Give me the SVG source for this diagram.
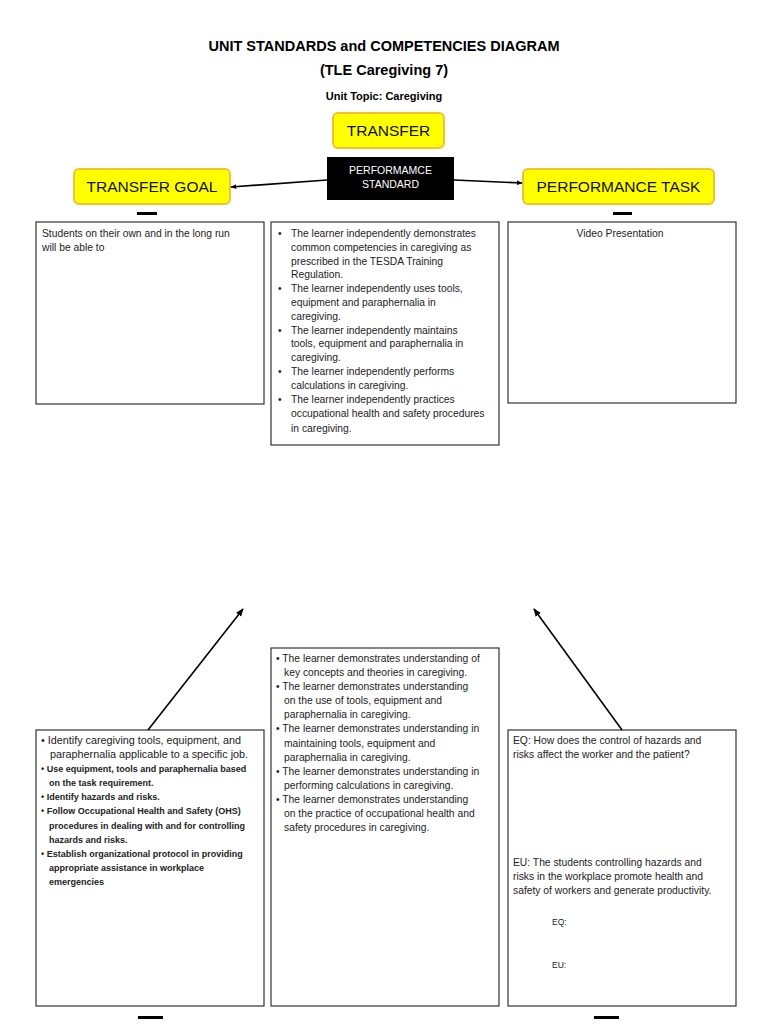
<svg xmlns="http://www.w3.org/2000/svg" width="768" height="1024" viewBox="0 0 768 1024">
<defs>
<marker id="ah" viewBox="0 0 10 10" refX="9" refY="5" markerWidth="6" markerHeight="6" orient="auto" markerUnits="userSpaceOnUse">
<path d="M0,1 L10,5 L0,9 z" fill="#000"/>
</marker>
<marker id="ah2" viewBox="0 0 10 10" refX="9" refY="5" markerWidth="8" markerHeight="8" orient="auto" markerUnits="userSpaceOnUse">
<path d="M0,1 L10,5 L0,9 z" fill="#000"/>
</marker>
</defs>
<style>
.title{font-family:"Liberation Sans",Arial,sans-serif;font-weight:bold;fill:#000;text-anchor:middle}
.yb{fill:#FFFF00;stroke:#F2C12E;stroke-width:2}
.yt{font-family:"Liberation Sans",Arial,sans-serif;font-size:15.5px;fill:#111;text-anchor:middle}
.box{fill:#fff;stroke:#333;stroke-width:1.2}
.t{font-family:"Liberation Sans",Arial,sans-serif;font-size:10.3px;fill:#222}
.s{font-family:"Liberation Sans",Arial,sans-serif;font-size:9px;fill:#222;font-weight:bold}
.dash{fill:#000}
.conn{stroke:#000;stroke-width:1.6;fill:none}
</style>
<rect width="768" height="1024" fill="#fff"/>
<text class="title" x="384" y="51" font-size="14.5">UNIT STANDARDS and COMPETENCIES DIAGRAM</text>
<text class="title" x="384" y="75" font-size="14.5">(TLE Caregiving 7)</text>
<text class="title" x="384" y="100" font-size="11">Unit Topic: Caregiving</text>

<g id="transfer">
<rect class="yb" x="333" y="113" width="111" height="35" rx="5"/>
<text class="yt" x="388.5" y="136">TRANSFER</text>
</g>
<g id="performance-standard">
<rect x="327" y="157" width="127" height="43" fill="#000"/>
<text x="390.5" y="174" font-family="'Liberation Sans',Arial,sans-serif" font-size="10.5" fill="#fff" text-anchor="middle">PERFORMAMCE</text>
<text x="390.5" y="188" font-family="'Liberation Sans',Arial,sans-serif" font-size="10.5" fill="#fff" text-anchor="middle">STANDARD</text>
</g>
<g id="transfer-goal">
<rect class="yb" x="74" y="169" width="156" height="35" rx="5"/>
<text class="yt" x="152" y="192">TRANSFER GOAL</text>
<rect class="dash" x="137" y="212" width="20" height="3"/>
</g>
<g id="performance-task">
<rect class="yb" x="523" y="169" width="191" height="35" rx="5"/>
<text class="yt" x="618.5" y="192">PERFORMANCE TASK</text>
<rect class="dash" x="613" y="212" width="19" height="3"/>
</g>

<g id="transfer-goal-box">
<rect class="box" x="36" y="222" width="228" height="182"/>
<text class="t" x="42" y="237">Students on their own and in the long run</text>
<text class="t" x="42" y="251">will be able to</text>
</g>
<g id="performance-standard-box">
<rect class="box" x="271" y="222" width="228" height="223"/>
<g class="t">
<text x="278" y="237">•</text>
<text x="291" y="237">The learner independently demonstrates</text>
<text x="291" y="251">common competencies in caregiving as</text>
<text x="291" y="265">prescribed in the TESDA Training</text>
<text x="291" y="278">Regulation.</text>
<text x="278" y="292">•</text>
<text x="291" y="292">The learner independently uses tools,</text>
<text x="291" y="306">equipment and paraphernalia in</text>
<text x="291" y="320">caregiving.</text>
<text x="278" y="334">•</text>
<text x="291" y="334">The learner independently maintains</text>
<text x="291" y="347">tools, equipment and paraphernalia in</text>
<text x="291" y="361">caregiving.</text>
<text x="278" y="375">•</text>
<text x="291" y="375">The learner independently performs</text>
<text x="291" y="389">calculations in caregiving.</text>
<text x="278" y="403">•</text>
<text x="291" y="403">The learner independently practices</text>
<text x="291" y="417">occupational health and safety procedures</text>
<text x="291" y="432">in caregiving.</text>
</g>
</g>
<g id="performance-task-box">
<rect class="box" x="508" y="222" width="228" height="181"/>
<text class="t" x="620" y="237" text-anchor="middle">Video Presentation</text>
</g>

<g id="competencies-box">
<rect class="box" x="36" y="730" width="228" height="276"/>
<text x="41" y="744" font-family="'Liberation Sans',Arial,sans-serif" font-size="10.8" fill="#222">•  Identify caregiving tools, equipment, and</text>
<text x="50" y="758" font-family="'Liberation Sans',Arial,sans-serif" font-size="10.8" fill="#222">paraphernalia applicable to a specific job.</text>
<g class="s">
<text x="41" y="772">• Use equipment, tools and paraphernalia based</text>
<text x="49" y="786">on the task requirement.</text>
<text x="41" y="800">• Identify hazards and risks.</text>
<text x="41" y="814">• Follow Occupational Health and Safety (OHS)</text>
<text x="49" y="829">procedures in dealing with and for controlling</text>
<text x="49" y="843">hazards and risks.</text>
<text x="41" y="857">• Establish organizational protocol in providing</text>
<text x="49" y="871">appropriate assistance in workplace</text>
<text x="49" y="885">emergencies</text>
</g>
<rect class="dash" x="138" y="1016" width="25" height="3"/>
</g>
<g id="content-standard-box">
<rect class="box" x="271" y="648" width="228" height="358"/>
<g class="t">
<text x="276" y="662">• The learner demonstrates understanding of</text>
<text x="284" y="676">key concepts and theories in caregiving.</text>
<text x="276" y="690">• The learner demonstrates understanding</text>
<text x="284" y="704">on the use of tools, equipment and</text>
<text x="284" y="718">paraphernalia in caregiving.</text>
<text x="276" y="732">• The learner demonstrates understanding in</text>
<text x="284" y="747">maintaining tools, equipment and</text>
<text x="284" y="761">paraphernalia in caregiving.</text>
<text x="276" y="775">• The learner demonstrates understanding in</text>
<text x="284" y="789">performing calculations in caregiving.</text>
<text x="276" y="803">• The learner demonstrates understanding</text>
<text x="284" y="817">on the practice of occupational health and</text>
<text x="284" y="831">safety procedures in caregiving.</text>
</g>
</g>
<g id="eq-eu-box">
<rect class="box" x="508" y="730" width="228" height="276"/>
<g class="t">
<text x="513" y="744">EQ: How does the control of hazards and</text>
<text x="513" y="758">risks affect the worker and the patient?</text>
<text x="513" y="866">EU: The students controlling hazards and</text>
<text x="513" y="880">risks in the workplace promote health and</text>
<text x="513" y="894">safety of workers and generate productivity.</text>
</g>
<text x="552" y="925" font-family="'Liberation Sans',Arial,sans-serif" font-size="8.5" fill="#222">EQ:</text>
<text x="552" y="968" font-family="'Liberation Sans',Arial,sans-serif" font-size="8.5" fill="#222">EU:</text>
<rect class="dash" x="594" y="1016" width="25" height="3"/>
</g>

<g id="connectors">
<line class="conn" x1="327" y1="180" x2="231" y2="187" marker-end="url(#ah)" stroke-width="1.3"/>
<line class="conn" x1="454" y1="180" x2="522" y2="183" marker-end="url(#ah)" stroke-width="1.3"/>
<line class="conn" x1="148" y1="730" x2="243" y2="609" marker-end="url(#ah2)" stroke-width="1.8"/>
<line class="conn" x1="622" y1="730" x2="534" y2="609" marker-end="url(#ah2)" stroke-width="1.8"/>
</g>
</svg>
